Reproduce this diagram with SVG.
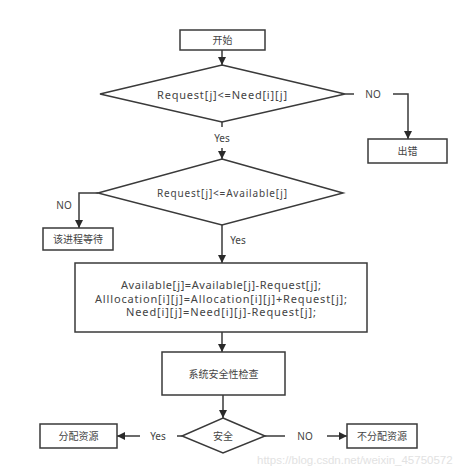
<svg xmlns="http://www.w3.org/2000/svg" width="474" height="474" viewBox="0 0 474 474">
<style>
.box{fill:#fff;stroke:#3a3a3a;stroke-width:1.5}
.ln{fill:none;stroke:#3a3a3a;stroke-width:1.5}
.t{font-family:"Noto Sans","Noto Sans CJK SC",sans-serif;font-size:10px;fill:#444;text-anchor:middle;dominant-baseline:central}
.m{font-size:11px}
.wm{font-family:"Liberation Sans",sans-serif;font-size:11.5px;fill:#e2e2e2;dominant-baseline:central}
</style>
<defs>
<marker id="ah" viewBox="0 0 10 10" refX="10" refY="5" markerWidth="8" markerHeight="9" markerUnits="userSpaceOnUse" orient="auto">
<path d="M0,0 L10,5 L0,10 z" fill="#2a2a2a"/>
</marker>
</defs>
<rect width="474" height="474" fill="#fff"/>
<g id="connectors">
<line class="ln" x1="222" y1="50" x2="222" y2="65" marker-end="url(#ah)"/>
<line class="ln" x1="222" y1="122" x2="222" y2="127"/>
<line class="ln" x1="222" y1="148" x2="222" y2="159" marker-end="url(#ah)"/>
<line class="ln" x1="345" y1="94" x2="354" y2="94"/>
<polyline class="ln" points="393,94 408,94 408,139" marker-end="url(#ah)"/>
<polyline class="ln" points="98,193 79,193 79,228" marker-end="url(#ah)"/>
<line class="ln" x1="222" y1="225" x2="222" y2="263" marker-end="url(#ah)"/>
<line class="ln" x1="222" y1="332" x2="222" y2="352" marker-end="url(#ah)"/>
<line class="ln" x1="223" y1="395" x2="223" y2="418" marker-end="url(#ah)"/>
<line class="ln" x1="182" y1="436" x2="177" y2="436"/>
<line class="ln" x1="140" y1="436" x2="117" y2="436" marker-end="url(#ah)"/>
<line class="ln" x1="265" y1="436" x2="285" y2="436"/>
<line class="ln" x1="327" y1="436" x2="347" y2="436" marker-end="url(#ah)"/>
<text class="t" x="222" y="138">Yes</text>
<text class="t" x="373" y="94">NO</text>
<text class="t" x="64" y="205">NO</text>
<text class="t" x="238" y="240">Yes</text>
<text class="t" x="158" y="436">Yes</text>
<text class="t" x="305" y="436">NO</text>
</g>
<g id="start">
<rect class="box" x="180" y="30" width="85" height="20"/>
<text class="t" x="222.5" y="40">开始</text>
</g>
<g id="check-need">
<polygon class="box" points="222,65 345,94 222,122 100,94"/>
<text class="t m" x="222" y="94" textLength="130" lengthAdjust="spacing">Request[j]&lt;=Need[i][j]</text>
</g>
<g id="error">
<rect class="box" x="368" y="139" width="79" height="24"/>
<text class="t" x="407.5" y="151">出错</text>
</g>
<g id="check-available">
<polygon class="box" points="222,159 343,193 222,225 98,193"/>
<text class="t" x="222" y="193" textLength="130" lengthAdjust="spacing">Request[j]&lt;=Available[j]</text>
</g>
<g id="wait">
<rect class="box" x="43" y="228" width="70" height="22"/>
<text class="t" x="78" y="239">该进程等待</text>
</g>
<g id="update">
<rect class="box" x="75" y="263" width="292" height="69"/>
<text class="t m" x="221" y="284.5" textLength="200" lengthAdjust="spacing">Available[j]=Available[j]-Request[j];</text>
<text class="t m" x="221" y="298" textLength="252" lengthAdjust="spacing">Alllocation[i][j]=Allocation[i][j]+Request[j];</text>
<text class="t m" x="221" y="311.5" textLength="190" lengthAdjust="spacing">Need[i][j]=Need[i][j]-Request[j];</text>
</g>
<g id="safety-check">
<rect class="box" x="162" y="352" width="123" height="43"/>
<text class="t" x="223.5" y="374">系统安全性检查</text>
</g>
<g id="safe">
<polygon class="box" points="223,418 265,436 223,453 182,436"/>
<text class="t" x="223" y="436">安全</text>
</g>
<g id="allocate">
<rect class="box" x="40" y="424" width="77" height="24"/>
<text class="t" x="78.5" y="436">分配资源</text>
</g>
<g id="no-allocate">
<rect class="box" x="347" y="424" width="70" height="24"/>
<text class="t" x="382" y="436">不分配资源</text>
</g>
<text class="wm" x="257" y="460">https://blog.csdn.net/weixin_45750572</text>
</svg>
